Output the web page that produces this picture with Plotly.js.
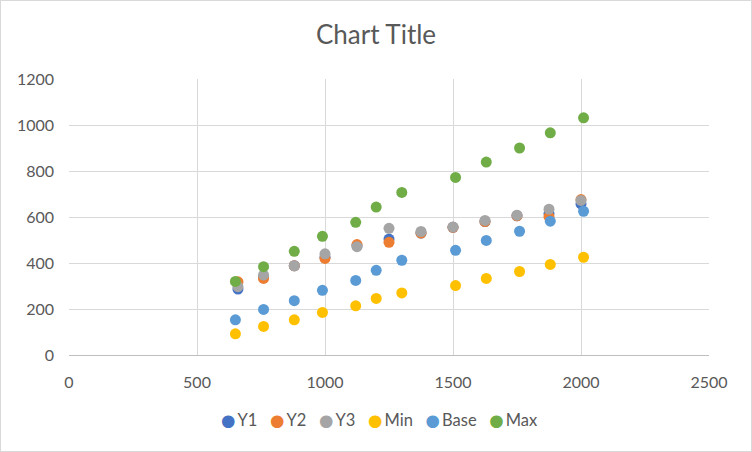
<!DOCTYPE html>
<html>
<head>
<meta charset="utf-8">
<script src="https://cdn.plot.ly/plotly-3.0.1.min.js"></script>
<style>
html,body{margin:0;padding:0;background:#fff;}
#chart{width:752px;height:452px;box-sizing:border-box;border:1px solid #d9d9d9;}
</style>
</head>
<body>
<div id="chart"></div>
<script>
// Data
const xY = [660, 760, 880, 1000, 1125, 1250, 1375, 1500, 1625, 1750, 1875, 2000];
const y1 = [287, 340, 388, 425, 475, 504, 530, 555, 580, 605, 615, 657];
const y2 = [318, 333, 388, 420, 480, 490, 530, 555, 580, 605, 602, 676];
const y3 = [297, 348, 388, 440, 471, 551, 537, 557, 585, 608, 634, 672];

const xRef = [650, 760, 880, 990, 1120, 1200, 1300, 1510, 1630, 1760, 1880, 2010];
const minV  = [92, 124, 153, 185, 214, 246, 270, 302, 333, 363, 394, 425];
const baseV = [153, 198, 236, 281, 324, 368, 412, 455, 498, 538, 582, 625];
const maxV  = [320, 384, 451, 516, 577, 643, 707, 772, 839, 900, 966, 1031];

const seriesNames = ["Y1", "Y2", "Y3", "Min", "Base", "Max"];
const colors = ["#4472C4", "#ED7D31", "#A5A5A5", "#FFC000", "#5B9BD5", "#70AD47"];

const xs = [xY, xY, xY, xRef, xRef, xRef];
const ys = [y1, y2, y3, minV, baseV, maxV];

const traces = seriesNames.map((n, i) => ({
  type: "scatter",
  mode: "markers",
  name: n,
  x: xs[i],
  y: ys[i],
  marker: {color: colors[i], size: 11},
  showlegend: false
}));

// Compact Excel-style legend as one line of text
const sp = "\u00a0\u00a0\u00a0";
const legendText = seriesNames.map((n, i) =>
  '<span style="color:' + colors[i] + ';font-family:DejaVu Sans">\u25CF</span>\u2009' + n
).join(sp);

const font = "Lato, 'Open Sans', sans-serif";
const layout = {
  width: 750, height: 450,
  margin: {l: 68, r: 42, t: 78, b: 96},
  paper_bgcolor: "#fff",
  plot_bgcolor: "#fff",
  font: {family: font, color: "#595959", size: 16},
  title: {text: "Chart Title", font: {family: font, size: 26, color: "#595959"},
          x: 0.5, xanchor: "center", y: 0.925, yref: "container", yanchor: "middle"},
  xaxis: {range: [0, 2500], dtick: 500, tick0: 0, showgrid: true, gridcolor: "#d9d9d9",
          zeroline: false, showline: true, linecolor: "#bfbfbf", linewidth: 1,
          ticks: "", ticklabelstandoff: 13, fixedrange: true},
  yaxis: {range: [0, 1200], dtick: 200, tick0: 0, showgrid: true, gridcolor: "#d9d9d9",
          zeroline: false, showline: false, ticks: "", ticklabelstandoff: 14, fixedrange: true},
  showlegend: false,
  annotations: [{
    text: legendText, xref: "paper", yref: "paper", x: 0.485, y: -0.236,
    xanchor: "center", yanchor: "middle", showarrow: false,
    font: {family: font, size: 16.5, color: "#595959"}
  }],
  hovermode: false
};

Plotly.newPlot("chart", traces, layout, {displayModeBar: false, staticPlot: true});
</script>
</body>
</html>
